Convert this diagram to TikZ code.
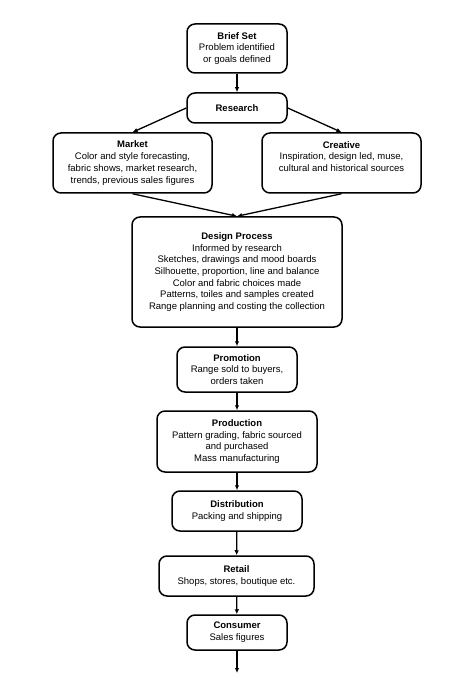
\documentclass[tikz,border=0pt]{standalone}
\usepackage{fontspec}
\setmainfont{Liberation Sans}
\usetikzlibrary{arrows.meta}

\begin{document}
\begin{tikzpicture}[x=1pt, y=-1pt,
    box/.style={draw, line width=1.5pt, rounded corners=8pt, align=center, inner sep=2pt,
        font=\fontsize{9.5}{11.7}\selectfont},
    flow/.style={-{Latex[length=5pt,width=4.5pt]}, line width=1.3pt}]

    % --- Adjustable parameters ---
    \def\midx{237}   % centre line of the chart
    \def\sideh{60pt} % height of the two side boxes

    % --- Canvas ---
    \useasboundingbox (0,0) rectangle (474,684);

    % --- Boxes ---
    \node[box, minimum width=100pt, minimum height=49pt] (brief) at (\midx,48.5)
        {\textbf{Brief Set}\\Problem identified\\or goals defined};
    \node[box, minimum width=100pt, minimum height=30pt] (research) at (\midx,108)
        {\textbf{Research}};
    \node[box, minimum width=159pt, minimum height=\sideh] (market) at (132.5,163)
        {\textbf{Market}\\Color and style forecasting,\\fabric shows, market research,\\trends, previous sales figures};
    \node[box, minimum width=159pt, minimum height=\sideh, text depth=13pt] (creative) at (341.5,163)
        {\textbf{Creative}\\Inspiration, design led, muse,\\cultural and historical sources};
    \node[box, minimum width=210pt, minimum height=110pt] (design) at (\midx,272)
        {\textbf{Design Process}\\Informed by research\\Sketches, drawings and mood boards\\
         Silhouette, proportion, line and balance\\Color and fabric choices made\\
         Patterns, toiles and samples created\\Range planning and costing the collection};
    \node[box, minimum width=120pt, minimum height=45pt] (promotion) at (\midx,369.5)
        {\textbf{Promotion}\\Range sold to buyers,\\orders taken};
    \node[box, minimum width=160pt, minimum height=61pt] (production) at (\midx,441.5)
        {\textbf{Production}\\Pattern grading, fabric sourced\\and purchased\\Mass manufacturing};
    \node[box, minimum width=130pt, minimum height=40pt] (distribution) at (\midx,511)
        {\textbf{Distribution}\\Packing and shipping};
    \node[box, minimum width=155pt, minimum height=40pt] (retail) at (236.5,576)
        {\textbf{Retail}\\Shops, stores, boutique etc.};
    \node[box, minimum width=100pt, minimum height=35pt] (consumer) at (\midx,632.5)
        {\textbf{Consumer}\\Sales figures};

    \coordinate (out) at (\midx,673); % free end of the last arrow

    % --- Connectors ---
    \draw[flow] (brief) -- (research);
    \draw[flow] (research.west) -- (market.north);
    \draw[flow] (research.east) -- (creative.north);
    \draw[flow] (market.south) -- (design.north);
    \draw[flow] (creative.south) -- (design.north);
    \draw[flow] (design) -- (promotion);
    \draw[flow] (promotion) -- (production);
    \draw[flow] (production) -- (distribution);
    \draw[flow] (distribution) -- (retail);
    \draw[flow] (retail) -- (consumer);
    \draw[flow] (consumer) -- (out);

\end{tikzpicture}
\end{document}
